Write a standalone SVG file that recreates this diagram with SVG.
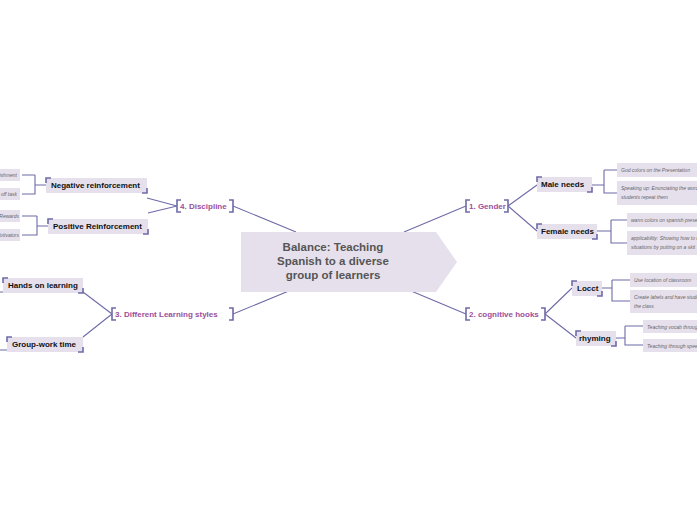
<svg xmlns="http://www.w3.org/2000/svg" width="697" height="520" viewBox="0 0 697 520">
<style>
.c{fill:none;stroke:#6f6ba8;stroke-width:1.1}
.br{fill:none;stroke:#6f6ba8;stroke-width:1.6}
.box{fill:#e6e0ed}
.sub{font-family:"Liberation Sans",Arial,sans-serif;font-size:8px;font-weight:bold;fill:#111}
.main{font-family:"Liberation Sans",Arial,sans-serif;font-size:8px;font-weight:bold;fill:#9b4f9b}
.leaf{font-family:"Liberation Sans",Arial,sans-serif;font-size:5px;font-style:italic;fill:#666}
</style>
<rect width="697" height="520" fill="#fff"/>
<g id="connectors">
<path class="c" d="M404 232 L466 206 M404 288 L466 314 M296 232 L233 206 M296 288 L233 314"/>
<path class="c" d="M508 206 L537 185 M508 206 L537 231"/>
<path class="c" d="M545 314 L572 288 M545 314 L576 338"/>
<path class="c" d="M177 206 L147 198 M177 206 L148 213"/>
<path class="c" d="M112 314 L83 292 M112 314 L83 337"/>
<path class="c" d="M592 185 H604 M604 170 H617 M604 170 V193 H617 M597 231 H611 M611 220 H627 M611 220 V243 H627"/>
<path class="c" d="M602 288 H612 M612 280 H630 M612 280 V301 H630 M616 338 H625 M625 326 H643 M625 326 V345 H643"/>
<path class="c" d="M46 185 H35 M35 175 H22 M35 175 V194 H22 M48 226 H37 M37 216 H22 M37 216 V235 H22"/>
<path class="c" d="M3 292 H0 M7 350 H0"/>
</g>
<g id="center">
<path d="M241 232 H436 L457 262 L436 292 H241 Z" fill="#e6e0ed"/>
<text font-family="Liberation Sans,Arial,sans-serif" font-size="11.5" font-weight="bold" fill="#555" text-anchor="middle"><tspan x="333" y="251">Balance: Teaching</tspan><tspan x="333" y="265">Spanish to a diverse</tspan><tspan x="333" y="279">group of learners</tspan></text>
</g>
<g id="gender"><rect x="466" y="200" width="42" height="12" fill="#fff"/><path class="br" d="M470 200 H466 V212 H470 M504 200 H508 V212 H504"/><text class="main" x="469" y="209">1. Gender</text></g>
<g id="male"><rect class="box" x="537" y="177" width="55" height="15"/><path class="br" d="M537 182 V177 H542 M592 187 V192 H587"/><text class="sub" x="541" y="187">Male needs</text></g>
<g id="female"><rect class="box" x="537" y="224" width="60" height="15"/><path class="br" d="M537 229 V224 H542 M597 234 V239 H592"/><text class="sub" x="541" y="234">Female needs</text></g>
<g id="leaf1"><rect class="box" x="617" y="163" width="80" height="14"/><text class="leaf" x="621" y="172">God colors on the Presentation</text></g>
<g id="leaf2"><rect class="box" x="617" y="181" width="80" height="24"/><text class="leaf"><tspan x="621" y="190">Speaking up:  Enunciating the words and having</tspan><tspan x="621" y="199">students repeat them</tspan></text></g>
<g id="leaf3"><rect class="box" x="627" y="213" width="70" height="14"/><text class="leaf" x="631" y="222">warm colors on spanish presentation</text></g>
<g id="leaf4"><rect class="box" x="627" y="231" width="70" height="24"/><text class="leaf"><tspan x="631" y="240">applicability:  Showing how to use Spanish in real</tspan><tspan x="631" y="249">situations by putting on a skit</tspan></text></g>
<g id="hooks"><rect x="466" y="308" width="79" height="12" fill="#fff"/><path class="br" d="M470 308 H466 V320 H470 M541 308 H545 V320 H541"/><text class="main" x="469" y="317">2. cognitive hooks</text></g>
<g id="locct"><rect class="box" x="572" y="281" width="30" height="15"/><path class="br" d="M572 286 V281 H577 M602 291 V296 H597"/><text class="sub" x="577" y="291">Locct</text></g>
<g id="rhyming"><rect class="box" x="576" y="331" width="40" height="15"/><path class="br" d="M576 336 V331 H581 M616 341 V346 H611"/><text class="sub" x="579" y="341">rhyming</text></g>
<g id="leaf5"><rect class="box" x="630" y="273" width="67" height="14"/><text class="leaf" x="634" y="282">Use location of classroom</text></g>
<g id="leaf6"><rect class="box" x="630" y="290" width="67" height="23"/><text class="leaf"><tspan x="634" y="299">Create labels and have students label</tspan><tspan x="634" y="308">the class</tspan></text></g>
<g id="leaf7"><rect class="box" x="643" y="320" width="54" height="13"/><text class="leaf" x="647" y="329">Teaching vocab through songs</text></g>
<g id="leaf8"><rect class="box" x="643" y="339" width="54" height="13"/><text class="leaf" x="647" y="348">Teaching through speech</text></g>
<g id="discipline"><rect x="177" y="200" width="56" height="12" fill="#fff"/><path class="br" d="M181 200 H177 V212 H181 M229 200 H233 V212 H229"/><text class="main" x="180" y="209">4. Discipline</text></g>
<g id="negative"><rect class="box" x="46" y="178" width="101" height="15"/><path class="br" d="M46 183 V178 H51 M147 188 V193 H142"/><text class="sub" x="51" y="188">Negative reinforcement</text></g>
<g id="positive"><rect class="box" x="48" y="219" width="100" height="15"/><path class="br" d="M48 224 V219 H53 M148 229 V234 H143"/><text class="sub" x="53" y="229">Positive Reinforcement</text></g>
<g id="leaf9"><rect class="box" x="0" y="169" width="20" height="12"/><text class="leaf" x="17" y="177" text-anchor="end">Punishment</text></g>
<g id="leaf10"><rect class="box" x="0" y="188" width="20" height="12"/><text class="leaf" x="17" y="196" text-anchor="end">Staying off task</text></g>
<g id="leaf11"><rect class="box" x="0" y="210" width="20" height="12"/><text class="leaf" x="19" y="218" text-anchor="end">Rewards</text></g>
<g id="leaf12"><rect class="box" x="0" y="229" width="20" height="12"/><text class="leaf" x="19" y="237" text-anchor="end">Motivators</text></g>
<g id="styles"><rect x="112" y="308" width="121" height="12" fill="#fff"/><path class="br" d="M116 308 H112 V320 H116 M229 308 H233 V320 H229"/><text class="main" x="115" y="317">3. Different Learning styles</text></g>
<g id="hands"><rect class="box" x="3" y="278" width="80" height="15"/><path class="br" d="M3 283 V278 H8 M83 288 V293 H78"/><text class="sub" x="8" y="288">Hands on learning</text></g>
<g id="group"><rect class="box" x="7" y="337" width="76" height="15"/><path class="br" d="M7 342 V337 H12 M83 347 V352 H78"/><text class="sub" x="12" y="347">Group-work time</text></g>
</svg>
